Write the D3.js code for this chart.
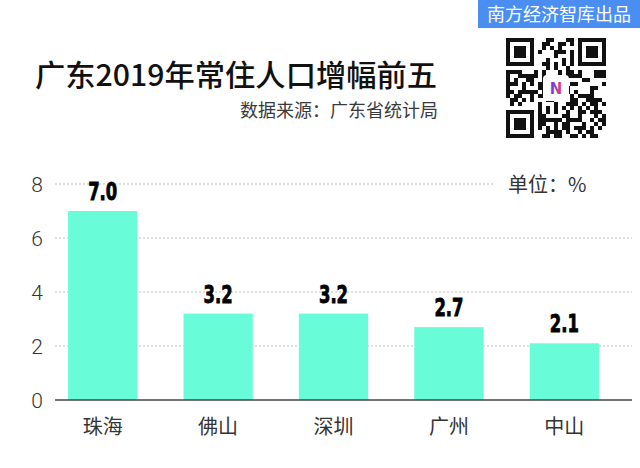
<!DOCTYPE html>
<html>
<head>
<meta charset="utf-8">
<script src="https://cdn.jsdelivr.net/npm/d3@7"></script>
<style>
  html, body { margin: 0; padding: 0; background: #fff; }
  svg { display: block; }
</style>
</head>
<body>
<div id="chart"></div>
<script>
// ---- data ----
const categories = ["珠海", "佛山", "深圳", "广州", "中山"];
const values = [7.0, 3.2, 3.2, 2.7, 2.1];
const valueLabels = ["7.0", "3.2", "3.2", "2.7", "2.1"];
const yTicks = [0, 2, 4, 6, 8];
const titleText = "广东2019年常住人口增幅前五";
const sourceText = "数据来源：广东省统计局";
const badgeText = "南方经济智库出品";
const unitText = "单位：%";

const W = 640, H = 468;
const cjk = "'Noto Sans CJK SC', 'Noto Sans', sans-serif";
const svg = d3.select("#chart").append("svg").attr("width", W).attr("height", H);
svg.append("rect").attr("width", W).attr("height", H).attr("fill", "#fff");

// scales
const y = d3.scaleLinear().domain([0, 8]).range([400, 184]);
const x = d3.scaleBand().domain(categories).range([45, 622]).paddingInner(0.4).paddingOuter(0.2);
const axisX0 = 55, axisX1 = 632;

// gridlines
const grid = svg.append("g");
grid.selectAll("line").data(yTicks.filter(d => d > 0)).join("line")
  .attr("x1", axisX0).attr("x2", d => d === 8 ? 495 : axisX1)
  .attr("y1", d => y(d)).attr("y2", d => y(d))
  .attr("stroke", "#bdbdbd").attr("stroke-width", 1).attr("stroke-dasharray", "2,2");

// y axis tick labels via d3 axis
const yAxis = svg.append("g").attr("transform", "translate(43,0)")
  .call(d3.axisLeft(y).tickValues(yTicks).tickSize(0).tickPadding(0).tickFormat(d3.format("d")));
yAxis.select(".domain").remove();
yAxis.selectAll("text").attr("font-family", "Roboto, 'Liberation Sans', sans-serif")
  .attr("font-weight", 300).attr("font-size", 21).attr("fill", "#333").attr("dy", "0.36em");

// bars
svg.append("g").selectAll("rect").data(values).join("rect")
  .attr("x", (d, i) => x(categories[i]))
  .attr("width", x.bandwidth())
  .attr("y", d => y(d))
  .attr("height", d => y(0) - y(d))
  .attr("fill", "#68fdd8");

// baseline
svg.append("line").attr("x1", axisX0).attr("x2", axisX1).attr("y1", y(0)).attr("y2", y(0))
  .attr("stroke", "#444").attr("stroke-width", 1.5);

// x axis labels
const xAxis = svg.append("g").attr("transform", `translate(0,${y(0)})`)
  .call(d3.axisBottom(x).tickSize(0).tickPadding(0));
xAxis.select(".domain").remove();
xAxis.selectAll("text").attr("font-family", cjk).attr("font-size", 20)
  .attr("fill", "#333").attr("dy", "0").attr("y", 34);

// value labels
svg.append("g").selectAll("text").data(values).join("text")
  .attr("transform", (d, i) => `translate(${x(categories[i]) + x.bandwidth() / 2},${y(d) - 11}) scale(0.76,1)`)
  .attr("text-anchor", "middle")
  .attr("font-family", "'DejaVu Sans Condensed', 'DejaVu Sans', sans-serif")
  .attr("font-weight", "bold").attr("font-size", 24).attr("fill", "#000")
  .attr("stroke", "#000").attr("stroke-width", 0.8)
  .text((d, i) => valueLabels[i]);

// unit label
svg.append("text").attr("x", 508).attr("y", 192).attr("font-family", cjk)
  .attr("font-size", 20).attr("fill", "#333").text(unitText);

// title & source
svg.append("text").attr("x", 35).attr("y", 86).attr("font-family", cjk)
  .attr("font-weight", 500).attr("font-size", 30).attr("fill", "#111")
  .attr("textLength", 402).attr("lengthAdjust", "spacingAndGlyphs").text(titleText);
svg.append("text").attr("x", 438).attr("y", 117).attr("text-anchor", "end")
  .attr("font-family", cjk).attr("font-size", 18).attr("fill", "#3a3a3a").text(sourceText);

// badge
svg.append("rect").attr("x", 478).attr("y", 0).attr("width", 162).attr("height", 28).attr("fill", "#4b8ef2");
svg.append("text").attr("x", 559).attr("y", 21).attr("text-anchor", "middle")
  .attr("font-family", cjk).attr("font-size", 18).attr("fill", "#fff").text(badgeText);

// decorative QR code (deterministic pattern)
const qr = svg.append("g").attr("transform", "translate(506,38)");
const N = 25, m = 4;
function finder(cx, cy) {
  return (i, j) => {
    const a = i - cx, b = j - cy;
    if (a < 0 || b < 0 || a > 6 || b > 6) return null;
    if (a === 0 || b === 0 || a === 6 || b === 6) return 1;
    if (a === 1 || b === 1 || a === 5 || b === 5) return 0;
    return 1;
  };
}
const finders = [finder(0, 0), finder(18, 0), finder(0, 18)];
let seed = 12345;
function nextBit() { seed = (seed * 1103515245 + 12345) & 0x7fffffff; return (seed >> 16) & 1; }
const cells = [];
for (let j = 0; j < N; j++) for (let i = 0; i < N; i++) {
  let v = null;
  for (const f of finders) { const r = f(i, j); if (r !== null) v = r; }
  if (v === null) {
    if ((i === 7 && j < 8) || (j === 7 && i < 8) || (i === 17 && j < 8) || (j === 7 && i > 16) || (i === 7 && j > 16) || (j === 17 && i < 8)) v = 0;
    else v = nextBit();
  }
  if (v) cells.push([i, j]);
}
qr.selectAll("rect").data(cells).join("rect")
  .attr("x", d => d[0] * m).attr("y", d => d[1] * m).attr("width", m).attr("height", m).attr("fill", "#111");
qr.append("rect").attr("x", 37).attr("y", 37).attr("width", 26).attr("height", 26).attr("rx", 4).attr("fill", "#fff");
const grad = svg.append("defs").append("linearGradient").attr("id", "ng").attr("x1", 0).attr("x2", 1);
grad.append("stop").attr("offset", 0).attr("stop-color", "#5b3df5");
grad.append("stop").attr("offset", 1).attr("stop-color", "#f0406a");
qr.append("text").attr("x", 50).attr("y", 56).attr("text-anchor", "middle")
  .attr("font-family", "'DejaVu Sans', sans-serif").attr("font-weight", "bold").attr("font-size", 15)
  .attr("fill", "url(#ng)").text("N");
</script>
</body>
</html>
